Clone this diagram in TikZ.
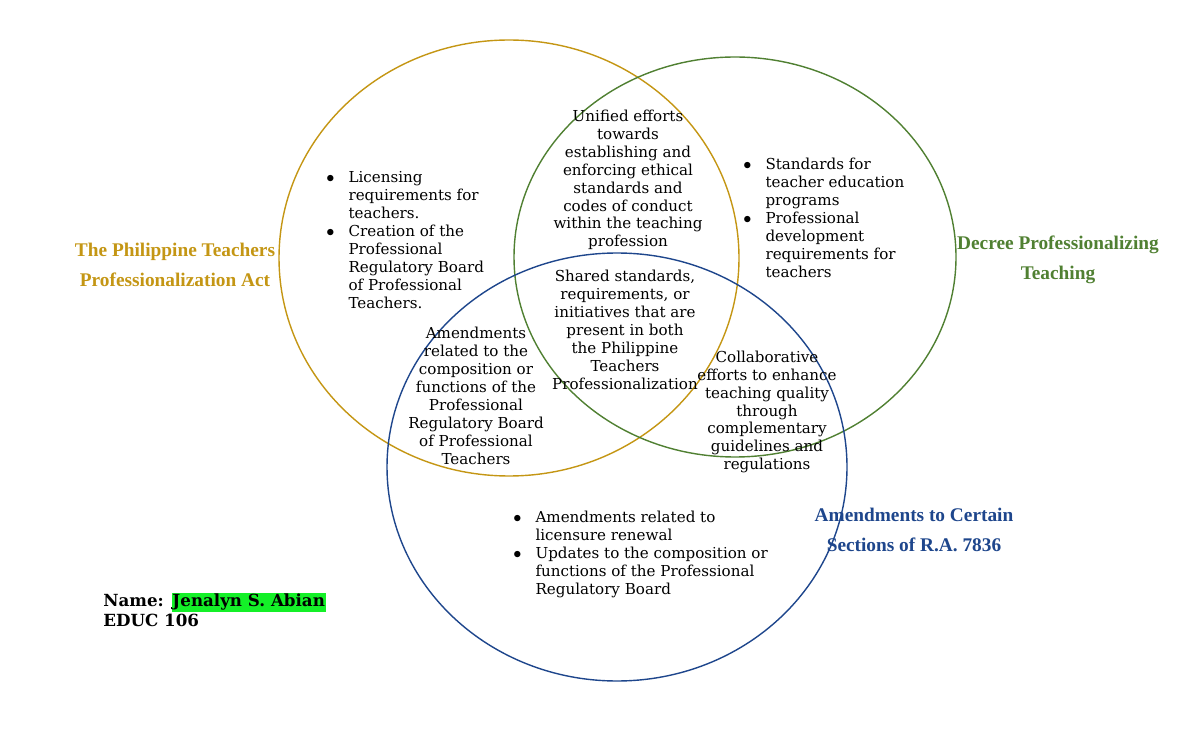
\documentclass[tikz,border=0pt]{standalone}
\usepackage{fontspec}
\setmainfont{DejaVu Serif}
\newfontfamily\titlefont{Liberation Serif}
\usetikzlibrary{positioning}
\definecolor{actGold}{RGB}{196,150,20}
\definecolor{decreeGreen}{RGB}{80,128,50}
\definecolor{amendBlue}{RGB}{30,70,140}
\definecolor{nameGreen}{RGB}{20,240,40}
\tikzset{
  body/.style={font=\fontsize{8.6}{10.2}\selectfont, align=center, inner sep=0pt},
  listing/.style={font=\fontsize{8.6}{10.2}\selectfont, align=left, inner sep=0pt, anchor=north west},
  title/.style={font=\titlefont\bfseries\fontsize{11}{17}\selectfont, align=center, inner sep=0pt}
}
\newcommand{\bul}{$\bullet$}
\begin{document}
\begin{tikzpicture}[x=0.02cm,y=-0.02cm]
        \useasboundingbox (0,0) rectangle (1200,729);
        % circles
        \draw[actGold, thick] (509,258) ellipse (230 and 218);
        \draw[decreeGreen, thick] (735,257) ellipse (221 and 200);
        \draw[amendBlue, thick] (617,467) ellipse (230 and 214);

        % titles
        \node[title, text=actGold] (actTitle) at (175,265) {The Philippine Teachers\\Professionalization Act};
        \node[title, text=decreeGreen] (decreeTitle) at (1058,260) {Decree Professionalizing\\Teaching};
        \node[title, text=amendBlue] (amendTitle) at (914,530) {Amendments to Certain\\Sections of R.A. 7836};

        % single regions
        \node[listing] (actList) at (326,170) {\begin{tabular}{@{}l@{\hspace{8pt}}l@{}}
          \bul & Licensing\\ & requirements for\\ & teachers.\\
          \bul & Creation of the\\ & Professional\\ & Regulatory Board\\ & of Professional\\ & Teachers.\end{tabular}};
        \node[listing] (decreeList) at (743,157) {\begin{tabular}{@{}l@{\hspace{8pt}}l@{}}
          \bul & Standards for\\ & teacher education\\ & programs\\
          \bul & Professional\\ & development\\ & requirements for\\ & teachers\end{tabular}};
        \node[listing] (amendList) at (513,510) {\begin{tabular}{@{}l@{\hspace{8pt}}l@{}}
          \bul & Amendments related to\\ & licensure renewal\\
          \bul & Updates to the composition or\\ & functions of the Professional\\ & Regulatory Board\end{tabular}};

        % overlaps
        \node[body] (actDecree) at (628,180) {Unified efforts\\towards\\establishing and\\enforcing ethical\\standards and\\codes of conduct\\within the teaching\\profession};
        \node[body] (allThree) at (625,330) {Shared standards,\\requirements, or\\initiatives that are\\present in both\\the Philippine\\Teachers\\Professionalization};
        \node[body] (actAmend) at (476,396) {Amendments\\related to the\\composition or\\functions of the\\Professional\\Regulatory Board\\of Professional\\Teachers};
        \node[body] (decreeAmend) at (767,412) {Collaborative\\efforts to enhance\\teaching quality\\through\\complementary\\guidelines and\\regulations};

        % name
        \node[font=\bfseries\fontsize{9.5}{12}\selectfont, anchor=north west, inner sep=0pt] (studentName) at (103,593)
          {Name: {\setlength{\fboxsep}{0.5pt}\colorbox{nameGreen}{Jenalyn S. Abian}}};
        \node[font=\bfseries\fontsize{9.5}{12}\selectfont, anchor=north west, inner sep=0pt] (course) at (103,614) {EDUC 106};
\end{tikzpicture}
\end{document}
